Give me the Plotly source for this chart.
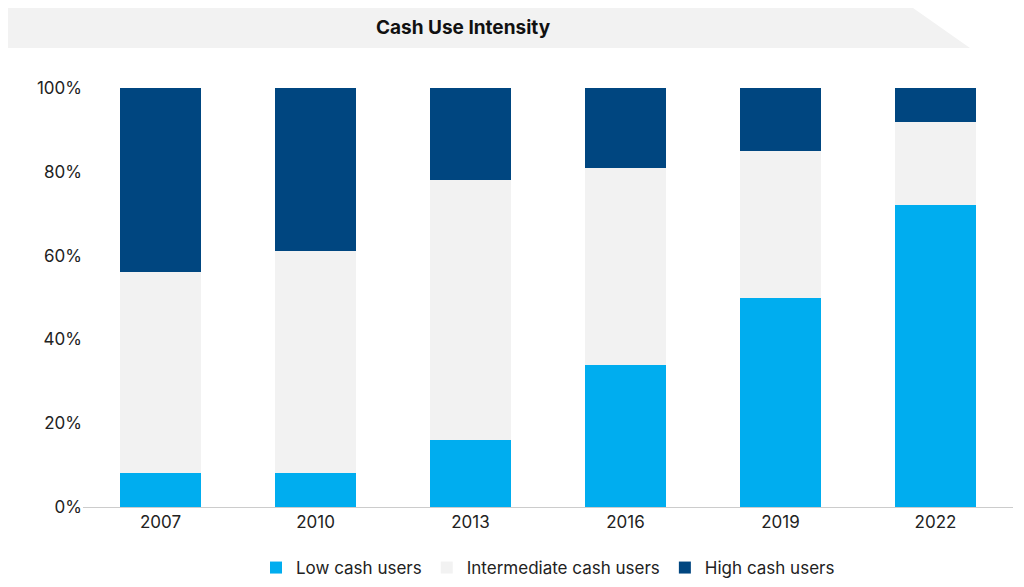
import plotly.graph_objects as go

years = ["2007", "2010", "2013", "2016", "2019", "2022"]
low = [8, 8, 16, 34, 50, 72]
intermediate = [48, 53, 62, 47, 35, 20]
high = [44, 39, 22, 19, 15, 8]

W, H = 1024, 587
L, R, T, B = 75, 19, 80, 88
pw, ph = W - L - R, H - T - B
def px(x): return (x - L) / pw
def py(y): return (H - B - y) / ph

fig = go.Figure()
fig.add_bar(x=years, y=low, name="Low cash users", marker=dict(color="#00adef", line_width=0))
fig.add_bar(x=years, y=intermediate, name="Intermediate cash users", marker=dict(color="#f2f2f2", line_width=0))
fig.add_bar(x=years, y=high, name="High cash users", marker=dict(color="#004680", line_width=0))

path = (f"M {px(0)},{py(0)} L {px(905)},{py(0)} L {px(962)},{py(40)} "
        f"L {px(0)},{py(40)} Z")
fig.add_shape(type="path", path=path, xref="paper", yref="paper",
              fillcolor="#f2f2f2", line_width=0, layer="below")
fig.add_annotation(text="<b>Cash Use Intensity</b>", xref="paper", yref="paper",
                   x=px(455), y=py(20), showarrow=False, yanchor="middle",
                   font=dict(size=19, color="#111"))

fig.update_layout(
    width=W, height=H, barmode="stack", bargap=0.48,
    margin=dict(l=L, r=R, t=T, b=B, autoexpand=False),
    plot_bgcolor="white", paper_bgcolor="white",
    font=dict(family="Inter", size=17, color="#222"),
    showlegend=True,
    legend=dict(orientation="h", x=0.5, xanchor="center", yref="container",
                y=1 - 560 / H, yanchor="middle",
                font=dict(size=17), traceorder="normal"),
    xaxis=dict(showline=True, linecolor="#cccccc", ticks="", tickfont=dict(size=17),
               automargin=False),
    yaxis=dict(range=[0, 100], dtick=20, ticksuffix="%", showgrid=False,
               zeroline=False, tickfont=dict(size=17), automargin=False),
)
fig.write_html("out.html")
